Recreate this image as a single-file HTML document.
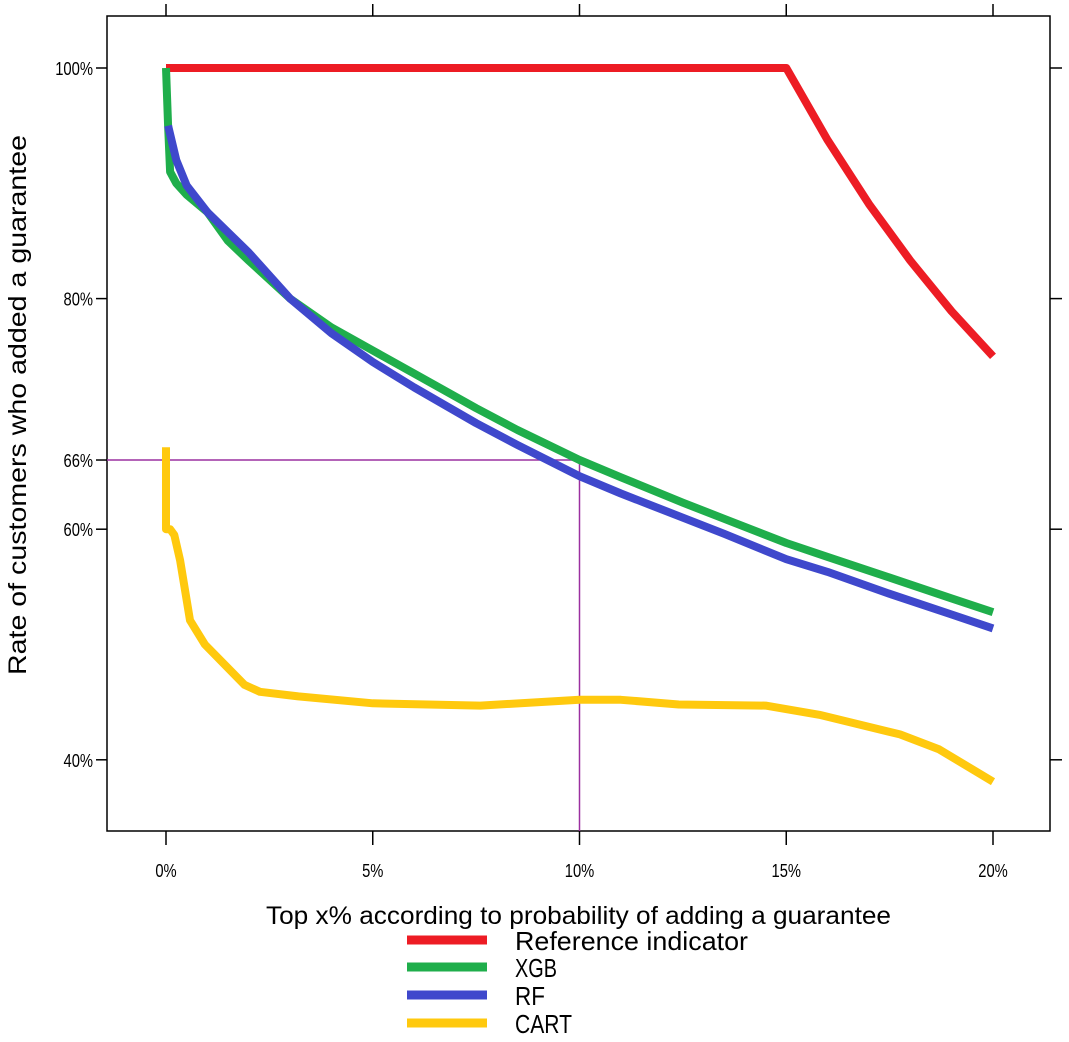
<!DOCTYPE html>
<html><head><meta charset="utf-8"><style>
body{margin:0;background:#fff;}
svg{display:block;font-family:"Liberation Sans",Arial,sans-serif;}
</style></head><body>
<svg id="chart" width="1069" height="1042"></svg>
<script>
const xTicks=[0,5,10,15,20];
const xTickLabels=["0%","5%","10%","15%","20%"];
const yTicks=[40,60,66,80,100];
const yTickLabels=["40%","60%","66%","80%","100%"];
const seriesNames=["Reference  indicator","XGB","RF","CART"];
const refX=[0,15,16,17,18,19,20];
const refY=[100,100,93.75,88.2,83.3,78.9,75];
const xgbX=[0,0.05,0.1,0.25,0.5,1,1.5,2,3,4,5,6,7.5,8.5,10,11,12.5,13.5,15,16,17.5,19,20];
const xgbY=[100,95,91,90,89,87.5,85,83.3,80,77.5,75.5,73.5,70.5,68.6,66,64.5,62.3,60.9,58.8,57.6,55.8,54,52.8];
const rfX=[0.05,0.25,0.5,1,2,3,4,5,6,7.5,8.5,10,11,12.5,13.5,15,16,17.5,19,20];
const rfY=[95,92,89.8,87.5,84,80,77,74.5,72.3,69.2,67.3,64.6,63.1,61,59.6,57.4,56.3,54.4,52.6,51.4];
const cartX=[0,0,0.1,0.2,0.34,0.58,0.94,1.9,2.27,3.2,5,7.6,10,11,12.4,14.5,15.8,17.75,18.7,20];
const cartY=[67.1,60,60,59.5,57.3,52.1,50,46.5,45.9,45.5,44.9,44.7,45.2,45.2,44.8,44.7,43.9,42.2,40.9,38.1];
const markX=[10];
const markY=[66];

const NS="http://www.w3.org/2000/svg";
const svg=document.getElementById('chart');
const L=107,R=1050,T=16,B=831;
const xs=v=>166+v*41.35;
const ys=v=>68+(100-v)*11.53;
function el(tag,attrs,parent){const e=document.createElementNS(NS,tag);for(const k in attrs)e.setAttribute(k,attrs[k]);(parent||svg).appendChild(e);return e;}

const frame=el('rect',{x:L,y:T,width:R-L,height:B-T,fill:'none',stroke:'#000','stroke-width':1.5});



xTicks.forEach((t,i)=>{
  const x=xs(t);
  const a=el('line',{x1:x,x2:x,y1:B,y2:B+14,stroke:'#000','stroke-width':1.5});
  
  
  const b=el('line',{x1:x,x2:x,y1:T,y2:T-12,stroke:'#000','stroke-width':1.5});
  
  
  const tx=el('text',{x:x,y:877,'text-anchor':'middle','font-size':18});
  tx.textContent=xTickLabels[i];
  
  
  tx.setAttribute('textLength',(tx.getComputedTextLength()*0.82).toFixed(1));
  tx.setAttribute('lengthAdjust','spacingAndGlyphs');
});
yTicks.forEach((t,i)=>{
  const y=ys(t);
  const a=el('line',{x1:L-11,x2:L,y1:y,y2:y,stroke:'#000','stroke-width':1.5});
  
  
  if(t!==66){
    const b=el('line',{x1:R,x2:R+12,y1:y,y2:y,stroke:'#000','stroke-width':1.5});
    
    
  }
  const tx=el('text',{x:93,y:y+7,'text-anchor':'end','font-size':18});
  tx.textContent=yTickLabels[i];
  
  
  tx.setAttribute('textLength',(tx.getComputedTextLength()*0.82).toFixed(1));
  tx.setAttribute('lengthAdjust','spacingAndGlyphs');
});

const h=el('line',{x1:L,x2:xs(markX[0]),y1:ys(markY[0]),y2:ys(markY[0]),stroke:'#9b30a0','stroke-width':1.5});


const v=el('line',{x1:xs(markX[0]),x2:xs(markX[0]),y1:ys(markY[0]),y2:B,stroke:'#9b30a0','stroke-width':1.5});



const colors=['#ed1c24','#1fae4b','#3f48cc','#ffc90e'];
const data=[[refX,refY],[xgbX,xgbY],[rfX,rfY],[cartX,cartY]];
const names=['reference-line','xgb-line','rf-line','cart-line'];
[3,0,1,2].forEach(i=>{
  const [X,Y]=data[i];
  const d=X.map((x,j)=>(j?'L':'M')+xs(x).toFixed(1)+','+ys(Y[j]).toFixed(1)).join(' ');
  const p=el('path',{d:d,fill:'none',stroke:colors[i],'stroke-width':8,'stroke-linejoin':'round'});
  
  
});

const xt=el('text',{x:266,y:924,'font-size':25,textLength:625,lengthAdjust:'spacingAndGlyphs'});
xt.textContent='Top x% according to probability of adding a guarantee';


const yt=el('text',{x:0,y:0,'text-anchor':'middle','font-size':25,textLength:540,lengthAdjust:'spacingAndGlyphs',transform:'translate(26,405) rotate(-90)'});
yt.textContent='Rate of customers who added a guarantee';



const ly=[940,967,995,1023];
const lw=[233,42,30,57];
seriesNames.forEach((n,i)=>{
  const l=el('line',{x1:407,x2:487,y1:ly[i],y2:ly[i],stroke:colors[i],'stroke-width':9});
  
  
  const t=el('text',{x:515,y:ly[i]+10,'font-size':26,textLength:lw[i],lengthAdjust:'spacingAndGlyphs'});
  t.textContent=n;
  
  
});
</script>
</body></html>
